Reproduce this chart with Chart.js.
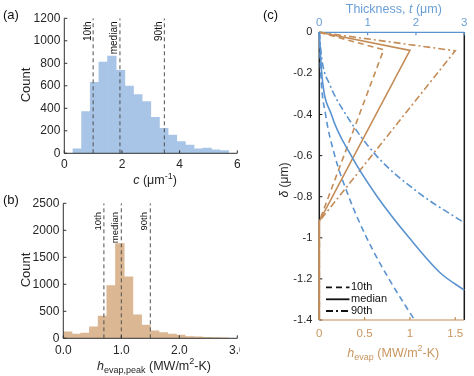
<!DOCTYPE html>
<html><head><meta charset="utf-8">
<script src="https://cdn.jsdelivr.net/npm/chart.js@4/dist/chart.umd.min.js"></script>
<style>
html,body{margin:0;padding:0;background:#fff;width:474px;height:376px;overflow:hidden;}
canvas{position:absolute;}
</style></head><body>
<canvas id="ca" width="240" height="190" style="left:0;top:0"></canvas>
<canvas id="cb" width="240" height="191" style="left:0;top:185px"></canvas>
<canvas id="cc" width="224" height="376" style="left:250px;top:0"></canvas>
<script>
// ---------- DATA ----------
// (a) histogram of c (um^-1)
const cBinCenters = [0.45,0.75,1.05,1.35,1.65,1.95,2.25,2.55,2.85,3.15,3.45,3.75,4.05,4.35,4.65,4.95,5.25,5.55];
const cCounts     = [40,370,630,810,865,738,598,521,459,320,222,163,104,74,39,47,30,24];
const cPercentiles = [1.0, 1.93, 3.47];
const percentileNames = ['10th','median','90th'];
const cTicks = [0,2,4,6];
const cTickLabels = ['0','2','4','6'];
const countTicksA = [0,200,400,600,800,1000,1200];
const countLabelsA = ['0','200','400','600','800','1000','1200'];

// (b) histogram of h_evap,peak (MW/m2-K)
const hBinCenters = [0.075,0.225,0.375,0.525,0.675,0.825,0.975,1.125,1.275,1.425,1.575,1.725,1.875,2.025,2.175,2.325,2.475,2.625,2.775];
const hCounts     = [120,79,98,213,410,976,1756,1140,435,244,140,108,79,58,30,25,20,15,10];
const hPercentiles = [0.7, 1.0, 1.5];
const hTicks = [0,1,2,3];
const hTickLabels = ['0.0','1.0','2.0','3.0'];
const countTicksB = [0,500,1000,1500,2000,2500];
const countLabelsB = ['0','500','1000','1500','2000','2500'];

// (c) profiles vs depth delta (um)
const depthTicks = [0,-0.2,-0.4,-0.6,-0.8,-1,-1.2,-1.4];
const depthTickLabels = ['0','-0.2','-0.4','-0.6','-0.8','-1','-1.2','-1.4'];
const thickTicks = [0,1,2,3];
const thickTickLabels = ['0','1','2','3'];
const hevapTicks = [0,0.5,1,1.5];
const hevapTickLabels = ['0','0.5','1','1.5'];
// thickness t (um) vs depth
const depthT10  = [0,-0.2,-0.4,-0.6,-0.8,-1.0,-1.2,-1.4];
const thick10   = [0,0.03,0.13,0.32,0.61,0.98,1.44,1.97];
const depthTMed = [0,-0.2,-0.4,-0.6,-0.8,-1.0,-1.17,-1.255];
const thickMed  = [0,0.05,0.25,0.66,1.2,1.86,2.5,3.0];
const depthT90  = [0,-0.127,-0.256,-0.4,-0.6,-0.78,-0.927];
const thick90   = [0,0.05,0.22,0.55,1.18,2.05,3.0];
// h_evap (MW/m2-K) vs depth
const depthH10  = [0,-0.085,-0.92,-1.4];
const hevap10   = [0,0.71,0,0];
const depthHMed = [0,-0.088,-0.92,-1.4];
const hevapMed  = [0,1.0,0,0];
const depthH90  = [0,-0.09,-0.92,-1.4];
const hevap90   = [0,1.5,0,0];

// ---------- STYLE ----------
const FONT = '"Liberation Sans", Arial, Helvetica, sans-serif';
const TXT = '#262626';
const BLUE = '#5a93cf';
const ORANGE = '#c48c56';
const BLUE_TXT = '#6a9fd6';
const ORANGE_TXT = '#c9955f';

function richText(ctx, segs, x, y, size, color, rot) {
  ctx.save();
  ctx.translate(x, y);
  if (rot) ctx.rotate(rot);
  ctx.fillStyle = color;
  ctx.textBaseline = 'middle';
  ctx.textAlign = 'left';
  const fonts = segs.map(s => ((s.i ? 'italic ' : '') + ((s.sub || s.sup) ? size * 0.72 : size) + 'px ' + FONT));
  let w = 0;
  const ws = segs.map((s, k) => { ctx.font = fonts[k]; const m = ctx.measureText(s.t).width; w += m; return m; });
  let cx = -w / 2;
  segs.forEach((s, k) => {
    ctx.font = fonts[k];
    const dy = s.sub ? size * 0.32 : (s.sup ? -size * 0.36 : 0);
    ctx.fillText(s.t, cx, dy);
    cx += ws[k];
  });
  ctx.restore();
}
function plainText(ctx, t, x, y, size, color, align) {
  ctx.save();
  ctx.font = size + 'px ' + FONT;
  ctx.fillStyle = color; ctx.textAlign = align || 'left'; ctx.textBaseline = 'middle';
  ctx.fillText(t, x, y);
  ctx.restore();
}
const fixTicks = (vals) => (s) => { s.ticks = vals.map(v => ({ value: v })); };
const fixW = (w) => (s) => { s.width = w; s.paddingTop = 0; s.paddingBottom = 0; s.paddingLeft = 0; s.paddingRight = 0; };
const fixH = (h) => (s) => { s.height = h; s.paddingTop = 0; s.paddingBottom = 0; s.paddingLeft = 0; s.paddingRight = 0; };

function histChart(id, centers, counts, fill, pct, xMax, xTicks, xLabels, yMax, yTicks, yLabels, pad, opts) {
  const lineSets = pct.map(v => ({
    type: 'line', data: [{ x: v, y: 0 }, { x: v, y: yMax }],
    borderColor: '#505050', borderWidth: 1, borderDash: [4, 3], pointRadius: 0, order: 0
  }));
  const deco = {
    id: 'deco' + id,
    afterDraw(chart) {
      const ctx = chart.ctx, a = chart.chartArea;
      const xs = chart.scales.x, ys = chart.scales.y;
      ctx.save();
      ctx.strokeStyle = '#303030'; ctx.lineWidth = 1;
      ctx.beginPath();
      ctx.moveTo(a.left, a.top); ctx.lineTo(a.left, a.bottom); ctx.lineTo(a.right, a.bottom);
      yTicks.forEach(v => { const p = ys.getPixelForValue(v); ctx.moveTo(a.left, p); ctx.lineTo(a.left + 3, p); });
      xTicks.forEach(v => { const p = xs.getPixelForValue(v); ctx.moveTo(p, a.bottom); ctx.lineTo(p, a.bottom - 3); });
      ctx.stroke();
      ctx.restore();
      // percentile labels
      pct.forEach((v, k) => {
        const px = xs.getPixelForValue(v) - opts.lblDx;
        ctx.save();
        ctx.translate(px, opts.lblTop); ctx.rotate(-Math.PI / 2);
        ctx.font = opts.lblSize + 'px ' + FONT; ctx.fillStyle = '#111';
        ctx.textAlign = 'right'; ctx.textBaseline = 'middle';
        ctx.fillText(percentileNames[k], 0, 0);
        ctx.restore();
      });
      plainText(ctx, opts.panel, 3, 15, 13, '#111');
      richText(ctx, [{ t: 'Count' }], 26.7, opts.countY, 13, TXT, -Math.PI / 2);
      richText(ctx, opts.title, opts.titleX, opts.titleY, 12.5, TXT, 0);
    }
  };
  return new Chart(document.getElementById(id), {
    type: 'bar',
    data: {
      datasets: [
        { type: 'bar', data: centers.map((c, i) => ({ x: c, y: counts[i] })), backgroundColor: fill,
          borderWidth: 0, barPercentage: 1, categoryPercentage: 1, order: 1 },
        ...lineSets
      ]
    },
    options: {
      responsive: false, animation: false, events: [],
      layout: { padding: pad },
      plugins: { legend: { display: false }, tooltip: { enabled: false } },
      scales: {
        x: { type: 'linear', min: 0, max: xMax, offset: false,
          grid: { display: false, drawTicks: false }, border: { display: false },
          afterBuildTicks: fixTicks(xTicks), afterFit: fixH(20),
          ticks: { autoSkip: false, maxRotation: 0, padding: opts.xPad, color: TXT, font: { family: FONT, size: 12 },
            callback: (v, i) => xLabels[i] } },
        y: { type: 'linear', min: 0, max: yMax,
          grid: { display: false, drawTicks: false }, border: { display: false },
          afterBuildTicks: fixTicks(yTicks), afterFit: fixW(40),
          ticks: { autoSkip: false, padding: 4, color: TXT, font: { family: FONT, size: 12 },
            callback: (v, i) => yLabels[i] } }
      }
    },
    plugins: [deco]
  });
}

histChart('ca', cBinCenters, cCounts, '#a8c5e7', cPercentiles, 6, cTicks, cTickLabels, 1200, countTicksA, countLabelsA,
  { left: 24.3, top: 18.3, right: 2.7, bottom: 16.7 },
  { lblDx: 5.3, lblTop: 21.5, lblSize: 10, panel: '(a)', countY: 85, xPad: 4.5,
    title: [{ t: 'c', i: true }, { t: ' (μm' }, { t: '-1', sup: true }, { t: ')' }], titleX: 155, titleY: 181 });

histChart('cb', hBinCenters, hCounts, '#dcb793', hPercentiles, 3, hTicks, hTickLabels, 2500, countTicksB, countLabelsB,
  { left: 23.3, top: 18.3, right: 2.7, bottom: 17.7 },
  { lblDx: 6, lblTop: 27, lblSize: 9.5, panel: '(b)', countY: 85, xPad: 5.5,
    title: [{ t: 'h', i: true }, { t: 'evap,peak', sub: true }, { t: ' (MW/m' }, { t: '2', sup: true }, { t: '-K)' }], titleX: 154, titleY: 181.5 });

// ---------- PANEL (c) ----------
const xy = (xs, ys) => xs.map((v, i) => ({ x: v, y: ys[i] }));
const DASH = [6, 4], DASHDOT = [7, 3, 2, 3];
function blueSet(xs, ys, dash) {
  return { data: xy(xs, ys), xAxisID: 'x2', borderColor: BLUE, borderWidth: 1.6, borderDash: dash,
    showLine: true, pointRadius: 0, cubicInterpolationMode: 'monotone', clip: false };
}
function orangeSet(xs, ys, dash) {
  return { data: xy(xs, ys), xAxisID: 'x', borderColor: ORANGE, borderWidth: 1.6, borderDash: dash,
    showLine: true, pointRadius: 0, tension: 0, clip: false };
}
const decoC = {
  id: 'decoC',
  beforeDatasetsDraw(chart) {
    const ctx = chart.ctx, a = chart.chartArea;
    const xs = chart.scales.x, x2 = chart.scales.x2, ys = chart.scales.y;
    ctx.save();
    ctx.lineWidth = 1.5;
    ctx.strokeStyle = '#1a1a1a';
    ctx.beginPath();
    ctx.moveTo(a.left, a.top); ctx.lineTo(a.left, a.bottom);
    ctx.moveTo(a.right, a.top); ctx.lineTo(a.right, a.bottom);
    ctx.stroke();
    ctx.lineWidth = 1;
    ctx.beginPath();
    depthTicks.forEach(v => { const p = ys.getPixelForValue(v); ctx.moveTo(a.left, p); ctx.lineTo(a.left + 3, p); });
    ctx.stroke();
    ctx.strokeStyle = BLUE; ctx.lineWidth = 1.2;
    ctx.beginPath();
    ctx.moveTo(a.left, a.top); ctx.lineTo(a.right, a.top);
    thickTicks.forEach(v => { const p = x2.getPixelForValue(v); ctx.moveTo(p, a.top); ctx.lineTo(p, a.top + 3); });
    ctx.stroke();
    ctx.strokeStyle = ORANGE;
    ctx.beginPath();
    ctx.moveTo(a.left, a.bottom); ctx.lineTo(a.right, a.bottom);
    hevapTicks.forEach(v => { const p = xs.getPixelForValue(v); ctx.moveTo(p, a.bottom); ctx.lineTo(p, a.bottom - 3); });
    ctx.stroke();
    ctx.restore();
  },
  afterDraw(chart) {
    const ctx = chart.ctx;
    plainText(ctx, '(c)', 13, 15, 13, '#111');
    richText(ctx, [{ t: 'Thickness, ' }, { t: 't', i: true }, { t: ' (μm)' }], 143.8, 10, 12.5, BLUE_TXT, 0);
    richText(ctx, [{ t: 'δ', i: true }, { t: ' (μm)' }], 35, 180, 12, TXT, -Math.PI / 2);
    richText(ctx, [{ t: 'h', i: true }, { t: 'evap', sub: true }, { t: ' (MW/m' }, { t: '2', sup: true }, { t: '-K)' }], 143.3, 353.3, 12.5, ORANGE_TXT, 0);
    // legend
    const rows = [[DASH, '10th', 287.3], [[], 'median', 299.3], [DASHDOT, '90th', 311]];
    ctx.save();
    rows.forEach(r => {
      ctx.strokeStyle = '#111'; ctx.lineWidth = 1.8; ctx.setLineDash(r[0]);
      ctx.beginPath(); ctx.moveTo(76, r[2]); ctx.lineTo(99.5, r[2]); ctx.stroke();
      ctx.setLineDash([]);
      plainText(ctx, r[1], 101, r[2], 11, '#111');
    });
    ctx.restore();
  }
};
new Chart(document.getElementById('cc'), {
  type: 'scatter',
  data: {
    datasets: [
      blueSet(thick10, depthT10, DASH),
      blueSet(thickMed, depthTMed, []),
      blueSet(thick90, depthT90, DASHDOT),
      orangeSet(hevap10, depthH10, DASH),
      orangeSet(hevapMed, depthHMed, []),
      orangeSet(hevap90, depthH90, DASHDOT)
    ]
  },
  options: {
    responsive: false, animation: false, events: [],
    layout: { padding: { left: 39.3, top: 16.3, right: 9.7, bottom: 38 } },
    plugins: { legend: { display: false }, tooltip: { enabled: false } },
    scales: {
      x: { type: 'linear', position: 'bottom', min: 0, max: 1.6,
        grid: { display: false, drawTicks: false }, border: { display: false },
        afterBuildTicks: fixTicks(hevapTicks), afterFit: fixH(18),
        ticks: { autoSkip: false, maxRotation: 0, padding: 6.5, color: ORANGE_TXT, font: { family: FONT, size: 11.5 },
          callback: (v, i) => hevapTickLabels[i] } },
      x2: { type: 'linear', position: 'top', axis: 'x', min: 0, max: 3,
        grid: { display: false, drawTicks: false }, border: { display: false },
        afterBuildTicks: fixTicks(thickTicks), afterFit: fixH(16),
        ticks: { autoSkip: false, maxRotation: 0, padding: 3, color: BLUE_TXT, font: { family: FONT, size: 11.5 },
          callback: (v, i) => thickTickLabels[i] } },
      y: { type: 'linear', min: -1.4, max: 0,
        grid: { display: false, drawTicks: false }, border: { display: false },
        afterBuildTicks: fixTicks(depthTicks), afterFit: fixW(30),
        ticks: { autoSkip: false, padding: 7, color: TXT, font: { family: FONT, size: 11 },
          callback: (v, i) => depthTickLabels[i] } }
    }
  },
  plugins: [decoC]
});
</script>
</body></html>
